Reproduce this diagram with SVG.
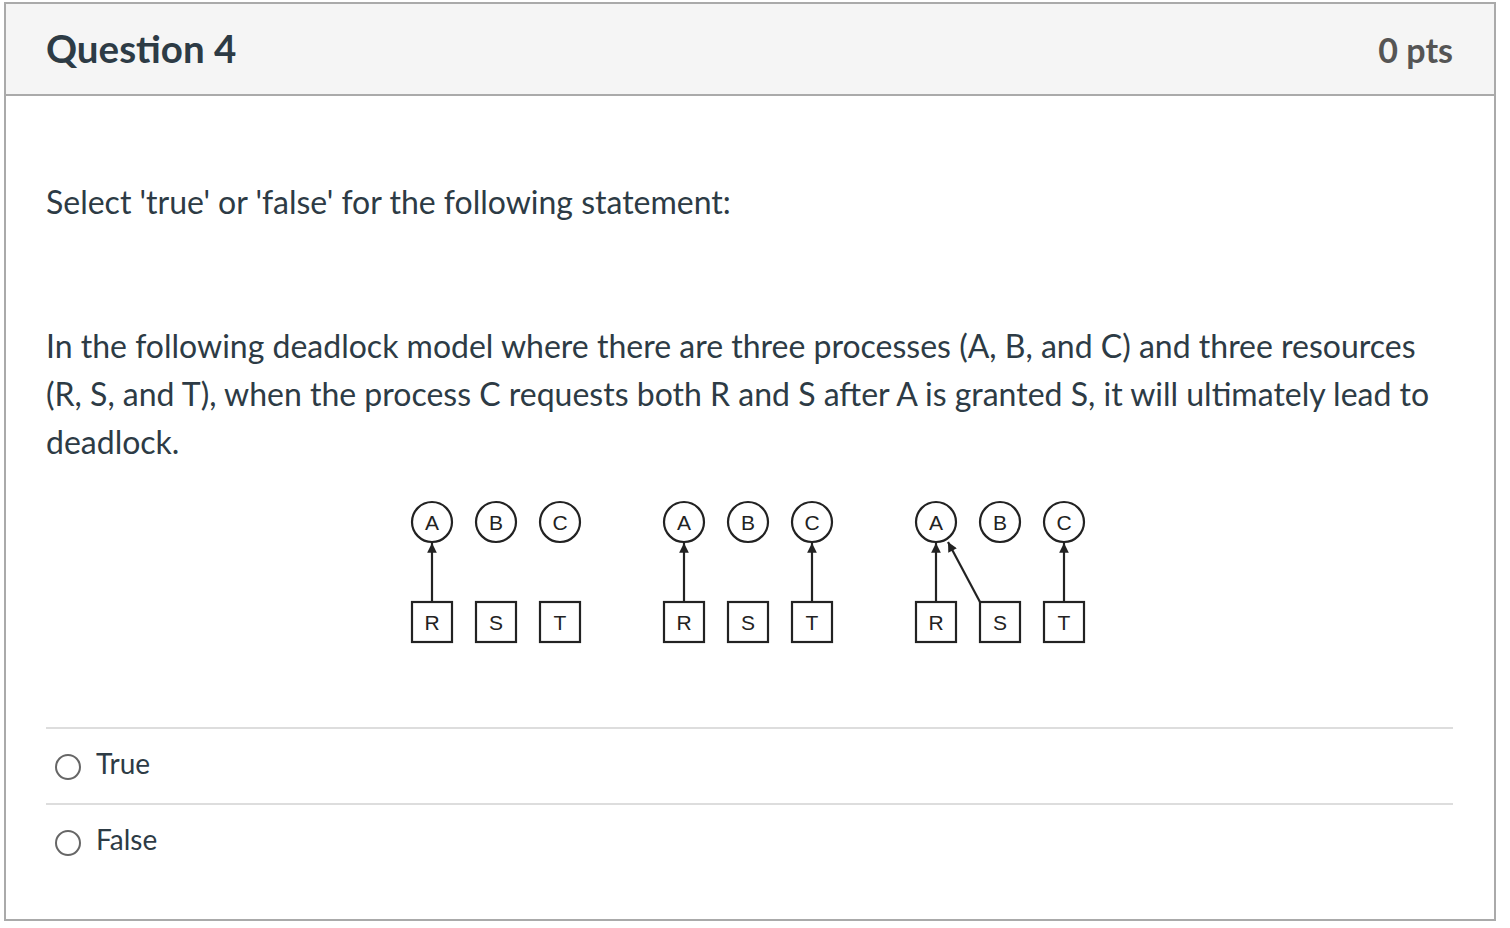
<svg xmlns="http://www.w3.org/2000/svg" width="1510" height="928" viewBox="0 0 1510 928">
<style>
.t{font-family:Lato,"Liberation Sans",sans-serif;fill:#2d3b45;font-size:32px}
.o{font-family:Lato,"Liberation Sans",sans-serif;fill:#2d3b45;font-size:28px}
.h{font-family:Lato,"Liberation Sans",sans-serif;font-weight:bold;font-size:38.5px;fill:#2d3b45}
.p{font-family:Lato,"Liberation Sans",sans-serif;font-weight:bold;font-size:34px;fill:#555}
.proc circle,.res rect{fill:#fff;stroke:#222;stroke-width:2.2}
.lbl{font-family:"Liberation Sans",Arial,sans-serif;font-size:21px;fill:#222;text-anchor:middle}
.edge{stroke:#222;stroke-width:2.2;fill:none;marker-end:url(#ah)}
.radio{fill:#fff;stroke:#666;stroke-width:2}
</style>
<defs>
<marker id="ah" viewBox="0 0 10 10" refX="10" refY="5" markerWidth="6.5" markerHeight="4.4" orient="auto" markerUnits="strokeWidth">
<path d="M0,0 L10,5 L0,10 Z" fill="#222"/>
</marker>
</defs>
<rect x="0" y="0" width="1510" height="928" fill="#fff"/>
<rect x="5" y="3" width="1490" height="92" fill="#f5f5f5"/>
<rect x="5" y="3" width="1490" height="917" fill="none" stroke="#aaa" stroke-width="2"/>
<line x1="5" y1="95" x2="1495" y2="95" stroke="#aaa" stroke-width="2"/>
<text class="h" x="46" y="63">Question 4</text>
<text class="p" x="1453" y="63" text-anchor="end">0 pts</text>
<text class="t" x="46" y="214">Select 'true' or 'false' for the following statement:</text>
<text class="t" x="46" y="358">In the following deadlock model where there are three processes (A, B, and C) and three resources</text>
<text class="t" x="46" y="406">(R, S, and T), when the process C requests both R and S after A is granted S, it will ultimately lead to</text>
<text class="t" x="46" y="454">deadlock.</text>

<g id="connectors">
<line class="edge" x1="432" y1="602" x2="432" y2="543"/>
<line class="edge" x1="684" y1="602" x2="684" y2="543"/>
<line class="edge" x1="812" y1="602" x2="812" y2="543"/>
<line class="edge" x1="936" y1="602" x2="936" y2="543"/>
<line class="edge" x1="1064" y1="602" x2="1064" y2="543"/>
<line class="edge" x1="980" y1="602" x2="948" y2="542"/>
</g>

<g id="p1A" class="proc"><circle cx="432" cy="522" r="20"/><text class="lbl" x="432" y="530">A</text></g>
<g id="p1B" class="proc"><circle cx="496" cy="522" r="20"/><text class="lbl" x="496" y="530">B</text></g>
<g id="p1C" class="proc"><circle cx="560" cy="522" r="20"/><text class="lbl" x="560" y="530">C</text></g>
<g id="r1R" class="res"><rect x="412" y="602" width="40" height="40"/><text class="lbl" x="432" y="630">R</text></g>
<g id="r1S" class="res"><rect x="476" y="602" width="40" height="40"/><text class="lbl" x="496" y="630">S</text></g>
<g id="r1T" class="res"><rect x="540" y="602" width="40" height="40"/><text class="lbl" x="560" y="630">T</text></g>

<g id="p2A" class="proc"><circle cx="684" cy="522" r="20"/><text class="lbl" x="684" y="530">A</text></g>
<g id="p2B" class="proc"><circle cx="748" cy="522" r="20"/><text class="lbl" x="748" y="530">B</text></g>
<g id="p2C" class="proc"><circle cx="812" cy="522" r="20"/><text class="lbl" x="812" y="530">C</text></g>
<g id="r2R" class="res"><rect x="664" y="602" width="40" height="40"/><text class="lbl" x="684" y="630">R</text></g>
<g id="r2S" class="res"><rect x="728" y="602" width="40" height="40"/><text class="lbl" x="748" y="630">S</text></g>
<g id="r2T" class="res"><rect x="792" y="602" width="40" height="40"/><text class="lbl" x="812" y="630">T</text></g>

<g id="p3A" class="proc"><circle cx="936" cy="522" r="20"/><text class="lbl" x="936" y="530">A</text></g>
<g id="p3B" class="proc"><circle cx="1000" cy="522" r="20"/><text class="lbl" x="1000" y="530">B</text></g>
<g id="p3C" class="proc"><circle cx="1064" cy="522" r="20"/><text class="lbl" x="1064" y="530">C</text></g>
<g id="r3R" class="res"><rect x="916" y="602" width="40" height="40"/><text class="lbl" x="936" y="630">R</text></g>
<g id="r3S" class="res"><rect x="980" y="602" width="40" height="40"/><text class="lbl" x="1000" y="630">S</text></g>
<g id="r3T" class="res"><rect x="1044" y="602" width="40" height="40"/><text class="lbl" x="1064" y="630">T</text></g>

<line x1="46" y1="728" x2="1453" y2="728" stroke="#ddd" stroke-width="2"/>
<line x1="46" y1="804" x2="1453" y2="804" stroke="#ddd" stroke-width="2"/>
<circle class="radio" cx="68" cy="767" r="12"/>
<text class="o" x="96" y="774">True</text>
<circle class="radio" cx="68" cy="843" r="12"/>
<text class="o" x="96" y="850">False</text>
</svg>
